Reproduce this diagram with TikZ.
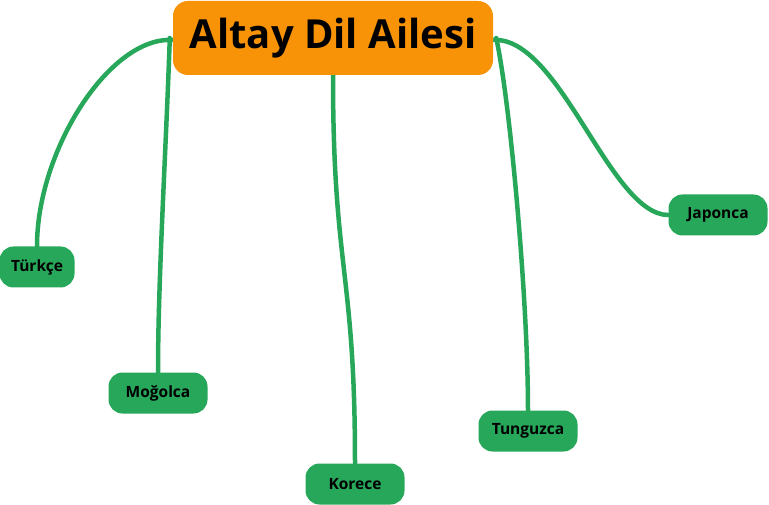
\documentclass[tikz,border=0pt]{standalone}
\usepackage{fontspec}
\setmainfont{Open Sans}
\usepackage{tikz}
\usetikzlibrary{positioning,backgrounds}
\definecolor{rootorange}{RGB}{248,146,6}
\definecolor{leafgreen}{RGB}{39,167,90}

\begin{document}
\begin{tikzpicture}[
        x=1pt, y=-1pt,
        font=\bfseries,
        rootbox/.style={fill=rootorange, rounded corners=15pt, align=center, minimum width=320pt, minimum height=74pt, font=\fontsize{40}{44}\selectfont\bfseries},
        leaf/.style={fill=leafgreen, rounded corners=14pt, align=center, inner xsep=10pt, minimum width=99pt, minimum height=41pt, font=\fontsize{15.5}{17}\selectfont\bfseries},
        link/.style={draw=leafgreen, line width=4.5pt, line cap=round}
    ]
        \useasboundingbox (0,0) rectangle (769,505);

        % Root
        \node[rootbox] (root) at (333,38) {Altay Dil Ailesi};

        % Leaves
        \node[leaf, minimum width=75pt] (tur) at (37,267) {Türkçe};
        \node[leaf] (mog) at (158,393) {Moğolca};
        \node[leaf] (kor) at (355,484) {Korece};
        \node[leaf] (tun) at (528,431) {Tunguzca};
        \node[leaf] (jap) at (718,215) {Japonca};

        % Links
        \begin{scope}[on background layer]
            \draw[link] ([yshift=-2pt]root.west) .. controls (110,36) and (37,150) .. (tur.north);
            \draw[link] ([xshift=-3pt]root.west) .. controls (166,150) and (158,280) .. (mog.north);
            \draw[link] (root.south) .. controls (333,270) and (355,270) .. (kor.north);
            \draw[link] ([xshift=3pt]root.east) .. controls (510,100) and (528,300) .. (tun.north);
            \draw[link] ([yshift=-2pt]root.east) .. controls (560,36) and (610,215) .. (jap.west);
        \end{scope}
    \end{tikzpicture}
\end{document}
